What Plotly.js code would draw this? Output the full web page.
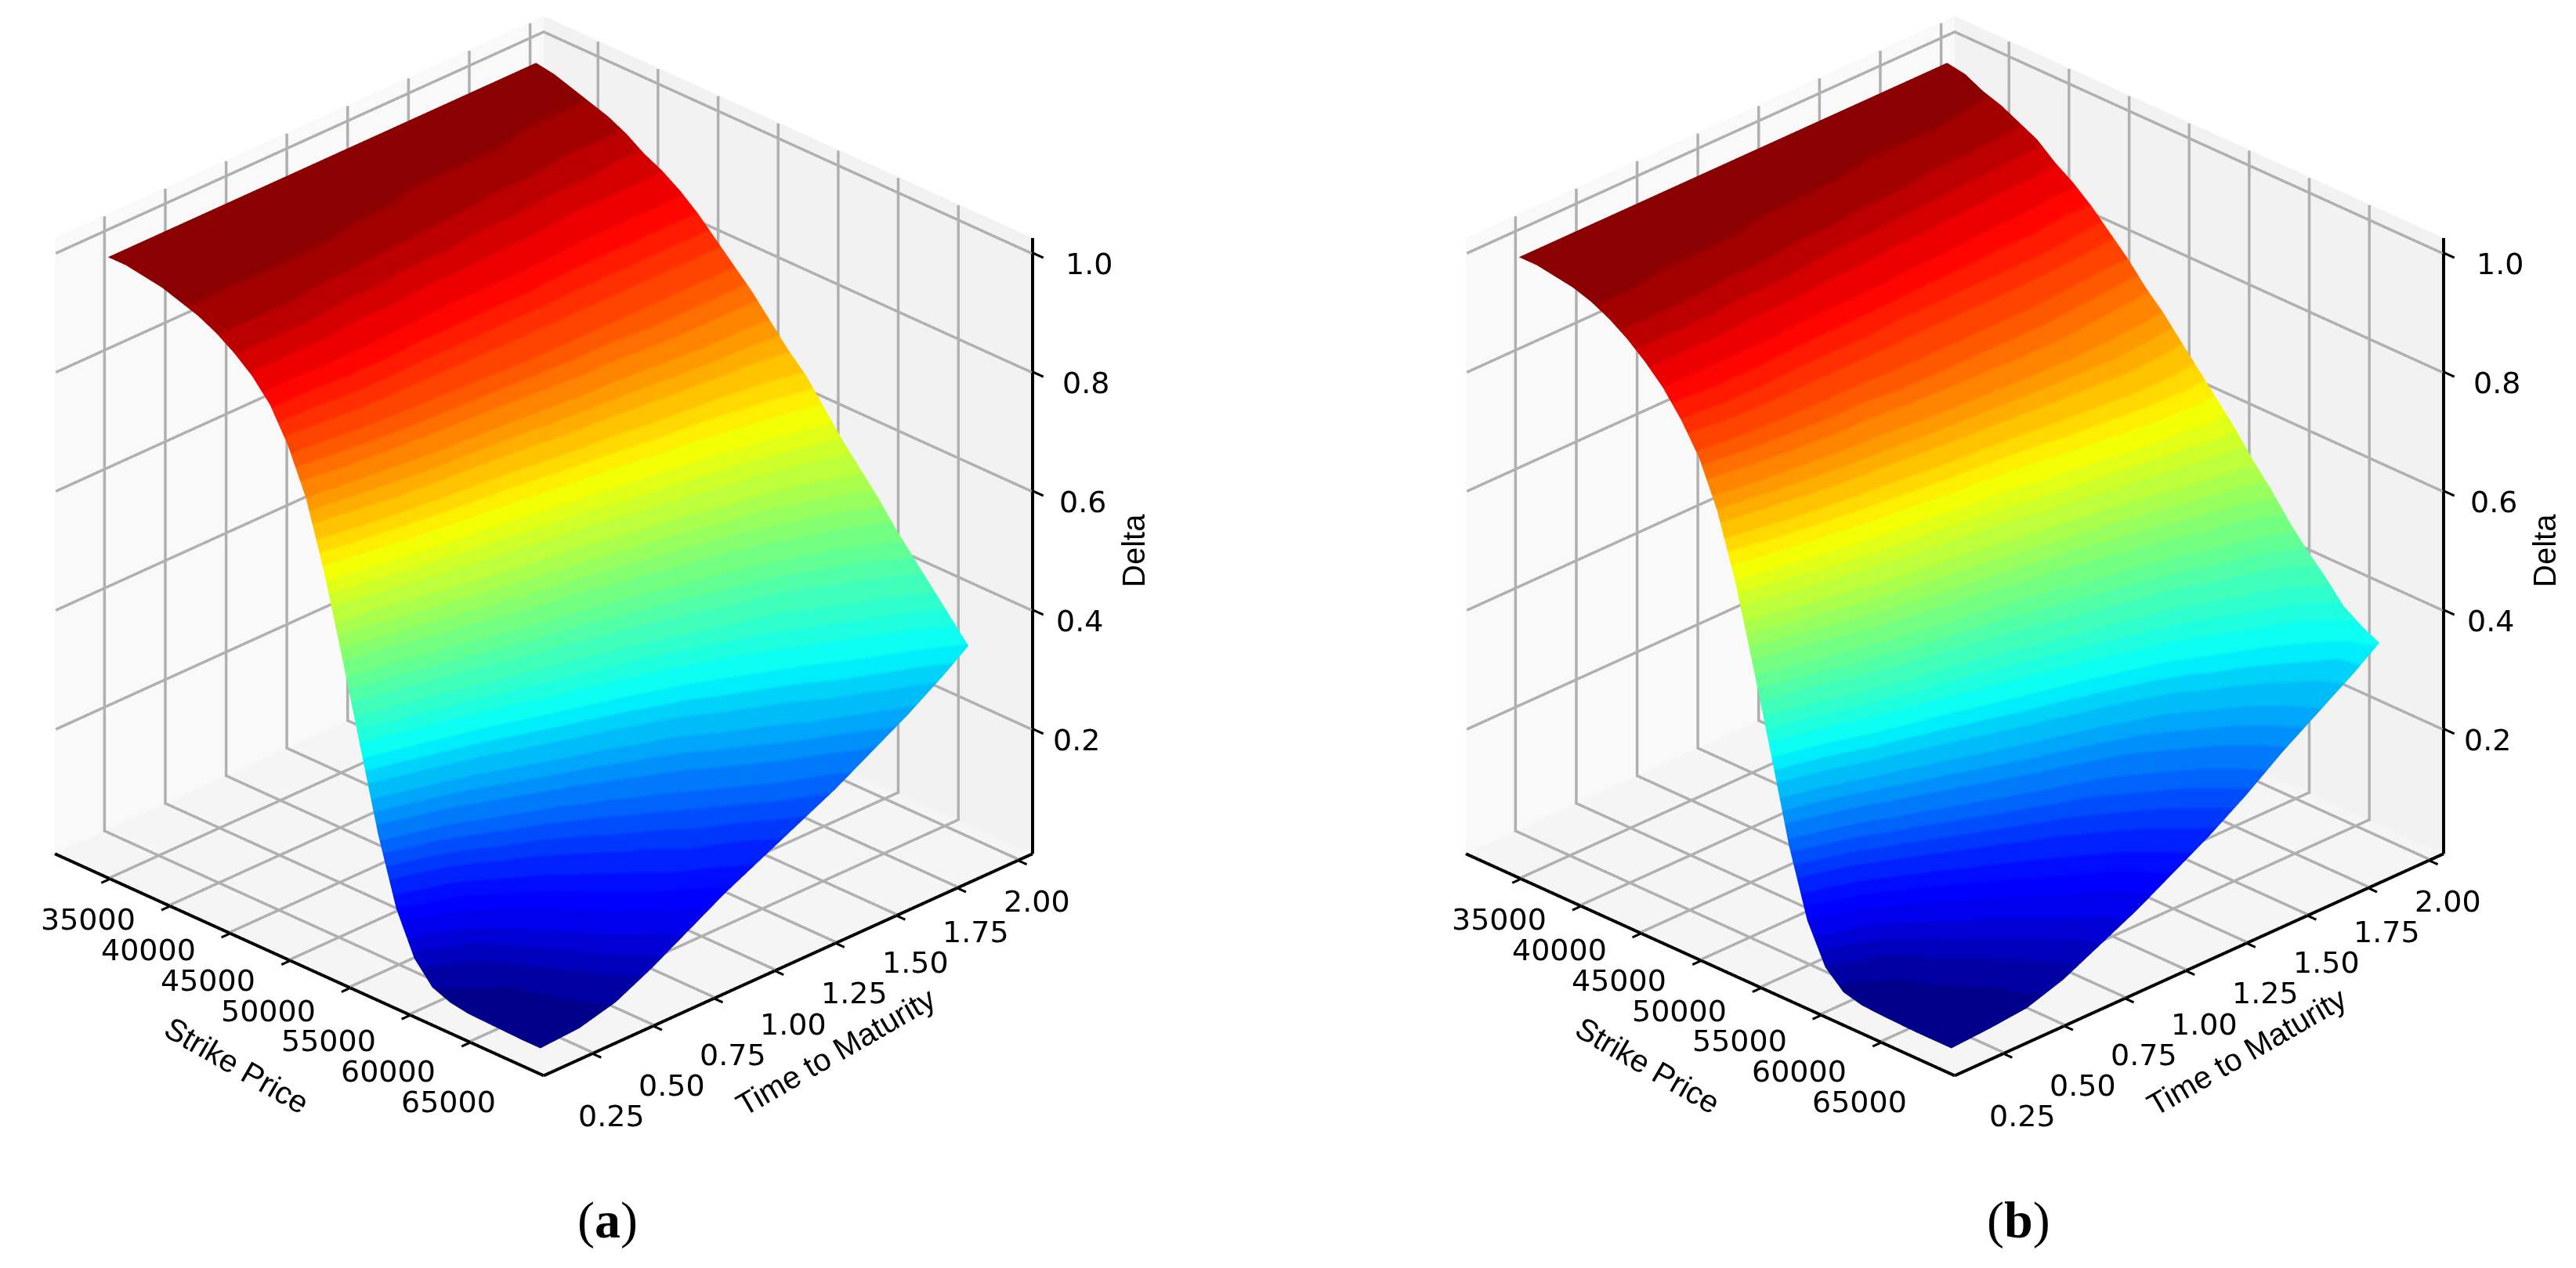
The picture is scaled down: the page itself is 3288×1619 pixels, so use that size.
<!DOCTYPE html>
<html><head><meta charset="utf-8">
<script src="https://cdn.plot.ly/plotly-3.0.1.min.js"></script>
<style>html,body{margin:0;padding:0;background:#fff;overflow:hidden}</style></head>
<body><div id="g" style="width:3288px;height:1619px"></div>
<script>
const strikes=[33000,34500,36000,37500,39000,40500,42000,43500,45000,46500,48000,49500,51000,52500,54000,55500,57000,58500,60000,61500,63000,64500,66000,67500,69000];
const maturities=[0.14,0.3,0.45,0.6,0.75,0.9,1.05,1.2,1.35,1.5,1.65,1.8,1.9];
const strikeTicks=[35000,40000,45000,50000,55000,60000,65000];
const maturityTicks=[0.25,0.5,0.75,1.0,1.25,1.5,1.75,2.0];
const maturityLabels=['0.25','0.50','0.75','1.00','1.25','1.50','1.75','2.00'];
const deltaTicks=[0.2,0.4,0.6,0.8,1.0];
const deltaLabels=['0.2','0.4','0.6','0.8','1.0'];
const strikeRange=[30400,71100];
const maturityRange=[0.05,2.06];
const deltaRange=[-0.01,1.025];
// one row per strike, one column per maturity
const deltaA=[
[1,1,1,1,1,1,1,1,1,1,1,1,1],
[1,1,1,1,1,1,1,1,.995,.995,.995,.995,.995],
[.995,.995,.995,.995,.995,.99,.99,.99,.985,.985,.985,.985,.985],
[.99,.99,.99,.99,.985,.985,.98,.98,.98,.98,.975,.975,.975],
[.98,.98,.98,.98,.98,.975,.975,.97,.97,.97,.965,.965,.965],
[.97,.97,.97,.97,.965,.965,.96,.96,.955,.955,.95,.95,.95],
[.955,.955,.955,.95,.95,.945,.945,.94,.94,.935,.935,.93,.93],
[.935,.935,.935,.93,.93,.925,.925,.92,.92,.915,.915,.915,.915],
[.91,.91,.91,.905,.905,.9,.9,.9,.9,.895,.895,.895,.895],
[.875,.875,.88,.88,.875,.875,.875,.875,.87,.87,.87,.87,.87],
[.82,.83,.84,.84,.84,.84,.84,.84,.84,.84,.84,.84,.84],
[.745,.77,.785,.795,.8,.805,.81,.81,.81,.81,.81,.81,.81],
[.635,.68,.71,.73,.74,.75,.76,.77,.77,.78,.78,.78,.78],
[.505,.56,.61,.64,.66,.68,.7,.71,.72,.73,.74,.74,.745],
[.37,.44,.5,.55,.58,.61,.63,.65,.67,.68,.69,.7,.71],
[.235,.32,.39,.45,.5,.53,.56,.59,.61,.63,.65,.665,.68],
[.125,.2,.28,.35,.41,.45,.49,.52,.55,.58,.6,.625,.64],
[.055,.11,.2,.27,.33,.38,.42,.46,.49,.52,.55,.58,.6],
[.02,.06,.14,.2,.26,.31,.36,.4,.44,.47,.51,.54,.565],
[.008,.035,.1,.16,.21,.26,.3,.35,.39,.42,.46,.5,.53],
[.003,.02,.075,.13,.18,.22,.26,.31,.35,.39,.42,.46,.49],
[.002,.012,.055,.11,.15,.19,.23,.27,.31,.35,.39,.425,.455],
[.001,.008,.04,.09,.13,.17,.2,.24,.28,.32,.355,.39,.42],
[0,.006,.03,.07,.105,.14,.17,.21,.24,.28,.32,.355,.385],
[0,.004,.02,.05,.085,.12,.15,.18,.21,.245,.28,.32,.35]];
const deltaB=[
[1,1,1,1,1,1,1,1,1,1,1,1,1],
[1,1,1,1,1,1,1,.995,.995,.995,.995,.995,.995],
[.995,.995,.995,.995,.99,.99,.99,.985,.985,.985,.985,.985,.98],
[.99,.99,.985,.985,.985,.98,.98,.98,.975,.975,.975,.97,.97],
[.98,.98,.975,.975,.975,.97,.97,.965,.965,.96,.96,.96,.955],
[.965,.965,.965,.96,.96,.955,.955,.95,.95,.945,.945,.94,.94],
[.945,.945,.945,.94,.94,.935,.93,.93,.925,.925,.92,.92,.915],
[.92,.92,.92,.915,.915,.91,.91,.905,.905,.9,.9,.895,.895],
[.89,.89,.89,.89,.885,.885,.885,.88,.88,.875,.875,.87,.87],
[.85,.86,.86,.855,.855,.855,.85,.85,.85,.85,.85,.845,.84],
[.8,.815,.82,.82,.82,.82,.82,.82,.82,.82,.815,.81,.81],
[.725,.755,.77,.78,.78,.79,.79,.79,.79,.79,.785,.78,.775],
[.62,.67,.7,.72,.73,.74,.75,.755,.76,.76,.755,.75,.745],
[.49,.56,.61,.64,.66,.68,.69,.7,.71,.715,.72,.715,.71],
[.355,.43,.5,.55,.58,.6,.62,.64,.66,.67,.68,.68,.675],
[.215,.3,.39,.45,.49,.52,.55,.58,.6,.62,.635,.64,.64],
[.105,.18,.27,.34,.39,.43,.47,.5,.53,.56,.58,.6,.605],
[.04,.09,.18,.25,.31,.36,.4,.44,.47,.5,.53,.55,.565],
[.012,.04,.11,.18,.24,.29,.33,.37,.41,.44,.48,.505,.53],
[.004,.02,.07,.13,.18,.23,.27,.31,.35,.39,.43,.46,.49],
[.002,.012,.05,.09,.14,.18,.22,.26,.3,.35,.39,.42,.455],
[.001,.008,.03,.07,.11,.15,.19,.23,.27,.31,.35,.385,.425],
[0,.006,.02,.05,.09,.12,.16,.2,.24,.28,.32,.36,.39],
[0,.005,.015,.04,.07,.1,.14,.18,.22,.26,.3,.33,.37],
[0,.004,.01,.03,.06,.09,.125,.16,.2,.245,.285,.325,.355]];
const panelLetters=['a','b'];
const jetPos=[0,.11,.125,.34,.35,.5,.64,.66,.89,.91,1];
const jetRGB=[[0,0,127],[0,0,255],[0,0,255],[0,228,248],[0,255,255],[124,255,121],[247,255,0],[255,234,0],[255,0,0],[232,0,0],[127,0,0]];

const W=3288,H=1619,BANDS=48,PAD=0.03,DOM_H=1394,DOM_W=1388,ZOOM=1.342;
function jet(t){for(let i=1;i<jetPos.length;i++){if(t<=jetPos[i]){const f=(t-jetPos[i-1])/(jetPos[i]-jetPos[i-1]);
  const c=jetRGB[i-1].map((v,k)=>Math.round(v+f*(jetRGB[i][k]-v)));return 'rgb('+c.join(',')+')';}}return 'rgb(127,0,0)';}
const stepScale=[];for(let b=0;b<BANDS;b++){const col=jet((b+.5)/BANDS);stepScale.push([b/BANDS,col]);stepScale.push([(b+1)/BANDS,col]);}
const transpose=m=>m[0].map((_,j)=>m.map(r=>r[j]));
const pad=r=>[r[0]-PAD*(r[1]-r[0]),r[1]+PAD*(r[1]-r[0])];
const EL=27*Math.PI/180,D=2.2;
const eye={x:D*Math.cos(EL)*Math.SQRT1_2,y:-D*Math.cos(EL)*Math.SQRT1_2,z:D*Math.sin(EL)};
const [x0,x1]=strikeRange,[y0,y1]=maturityRange,[z0,z1]=deltaRange;
const dx=x1-x0,dy=y1-y0,dz=z1-z0,EPS=0.002;
function axisCommon(extra){return Object.assign({showticklabels:false,title:{text:''},autorange:false,tickmode:'array',ticks:'',
  showline:false,showgrid:false,zeroline:false,showbackground:false,showspikes:false},extra);}
function tickNotes(){const a=[];const f={family:'DejaVu Sans',size:38,color:'#000'};
  const base={showarrow:false,font:f,xanchor:'center',yanchor:'middle'};
  strikeTicks.forEach((v,i)=>a.push(Object.assign({x:v,y:y0,z:z0,text:String(v),xshift:-28,yshift:-52-4*i},base)));
  maturityTicks.forEach((v,i)=>a.push(Object.assign({x:x1,y:v,z:z0,text:maturityLabels[i],xshift:24,yshift:-80+4*i},base)));
  deltaTicks.forEach((v,i)=>a.push(Object.assign({x:x1,y:y1,z:v,text:deltaLabels[i],xshift:56+4*i,yshift:-14},base)));
  return a;}
function scene(domX){return {domain:{x:domX,y:[1-DOM_H/H,1]},aspectmode:'manual',aspectratio:{x:ZOOM,y:ZOOM,z:ZOOM},
  camera:{eye:eye,center:{x:0,y:0,z:0},up:{x:0,y:0,z:1},projection:{type:'orthographic'}},
  bgcolor:'#fff',annotations:tickNotes(),
  xaxis:axisCommon({range:pad(strikeRange),tickvals:strikeTicks}),
  yaxis:axisCommon({range:pad(maturityRange),tickvals:maturityTicks}),
  zaxis:axisCommon({range:pad(deltaRange),tickvals:deltaTicks})};}
function surf(m,name){return {type:'surface',scene:name,x:strikes,y:maturities,z:transpose(m),colorscale:stepScale,cmin:0,cmax:1,showscale:false,
  lighting:{ambient:1,diffuse:0,specular:0,roughness:1,fresnel:0},hoverinfo:'skip'};}
function wall(name,xs,ys,zs,color){return {type:'mesh3d',scene:name,x:xs,y:ys,z:zs,i:[0,0],j:[1,2],k:[2,3],color:color,flatshading:true,
  lighting:{ambient:1,diffuse:0,specular:0,roughness:1,fresnel:0},hoverinfo:'skip',showscale:false};}
function lines(name,segs,color,width){const X=[],Y=[],Z=[];segs.forEach(s=>{X.push(s[0][0],s[1][0],null);Y.push(s[0][1],s[1][1],null);Z.push(s[0][2],s[1][2],null);});
  return {type:'scatter3d',scene:name,mode:'lines',x:X,y:Y,z:Z,line:{color:color,width:width},hoverinfo:'skip',showlegend:false,connectgaps:false};}
function frame(name){
  const xw=x0+EPS*dx,yw=y1-EPS*dy,zw=z0+EPS*dz;
  const grid=[];
  strikeTicks.forEach(v=>{grid.push([[v,y0,zw],[v,y1,zw]]);grid.push([[v,yw,z0],[v,yw,z1]]);});
  maturityTicks.forEach(v=>{grid.push([[x0,v,zw],[x1,v,zw]]);grid.push([[xw,v,z0],[xw,v,z1]]);});
  deltaTicks.forEach(v=>{grid.push([[xw,y0,v],[xw,y1,v]]);grid.push([[x0,yw,v],[x1,yw,v]]);});
  const tick=[];
  strikeTicks.forEach(v=>tick.push([[v,y0+.015*dy,z0],[v,y0-.018*dy,z0]]));
  maturityTicks.forEach(v=>tick.push([[x1-.015*dx,v,z0],[x1+.018*dx,v,z0]]));
  deltaTicks.forEach(v=>tick.push([[x1-.013*dx,y1,v],[x1+.022*dx,y1,v]]));
  const axes=[[[x0,y0,z0],[x1,y0,z0]],[[x1,y0,z0],[x1,y1,z0]],[[x1,y1,z0],[x1,y1,z1]]];
  return [
    wall(name,[x0,x0,x0,x0],[y0,y1,y1,y0],[z0,z0,z1,z1],'#f9f9f9'),
    wall(name,[x0,x1,x1,x0],[y1,y1,y1,y1],[z0,z0,z1,z1],'#f2f2f2'),
    wall(name,[x0,x1,x1,x0],[y0,y0,y1,y1],[z0,z0,z0,z0],'#f5f5f5'),
    lines(name,grid,'#b0b0b0',7),lines(name,tick,'#000',6),lines(name,axes,'#000',8)];
}
const OFF=1801;
function titles(off,letter){const t=(text,px,py,ang,font,size)=>({xref:'paper',yref:'paper',x:(px+off)/W,y:1-py/H,text:text,textangle:ang,showarrow:false,xanchor:'center',yanchor:'middle',font:{family:font,size:size,color:'#000'}});
  return [t('Strike Price',302,1360,30,'Liberation Sans',40),t('Time to Maturity',1066,1343,-30,'Liberation Sans',40),t('Delta',1447,703,-90,'Liberation Sans',40),
  t('(<b>'+letter+'</b>)',775,1558,0,'Liberation Serif',66)];}
const layout={width:W,height:H,margin:{l:0,r:0,t:0,b:0},paper_bgcolor:'#fff',showlegend:false,
  scene:scene([0,DOM_W/W]),scene2:scene([OFF/W,(OFF+DOM_W)/W]),
  annotations:titles(0,panelLetters[0]).concat(titles(OFF,panelLetters[1]))};
Plotly.newPlot('g',frame('scene').concat([surf(deltaA,'scene')],frame('scene2'),[surf(deltaB,'scene2')]),layout,{displayModeBar:false});
</script></body></html>
